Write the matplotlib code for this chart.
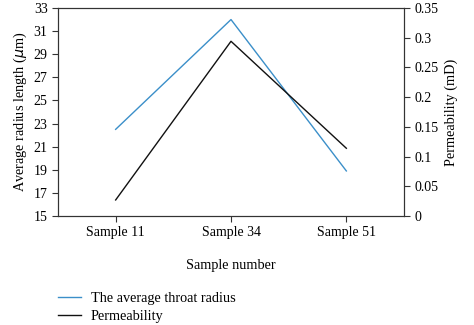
import matplotlib
matplotlib.use("Agg")
import matplotlib.pyplot as plt
from matplotlib.lines import Line2D

plt.rcParams['font.family'] = ['Liberation Serif', 'DejaVu Serif']

samples = ["Sample 11", "Sample 34", "Sample 51"]
radius = [22.5, 32.0, 18.9]
permeability = [0.027, 0.294, 0.114]
left_ticks = [15, 17, 19, 21, 23, 25, 27, 29, 31, 33]
right_ticks = [0, 0.05, 0.1, 0.15, 0.2, 0.25, 0.3, 0.35]
right_labels = ["0", "0.05", "0.1", "0.15", "0.2", "0.25", "0.3", "0.35"]

blue = "#3b8fc9"
black = "#111111"

fig = plt.figure(figsize=(4.74, 3.25), dpi=100)
ax = fig.add_axes([58/474, 1 - 216/325, (404-58)/474, (216-8)/325])
x = list(range(len(samples)))
ax.plot(x, radius, color=blue, lw=1.0)
ax.set_xlim(-0.5, 2.5)
ax.set_ylim(15, 33)
ax.set_yticks(left_ticks)
ax.set_xticks(x)
ax.set_xticklabels(samples)
ax.set_ylabel("Average radius length ($\\mu$m)", fontsize=10.3, labelpad=3)
ax.set_xlabel("Sample number", fontsize=10.3, labelpad=14)
ax.tick_params(labelsize=10, length=4, width=0.8, color="#333333")

ax2 = ax.twinx()
ax2.plot(x, permeability, color=black, lw=1.0)
ax2.set_ylim(0, 0.35)
ax2.set_yticks(right_ticks)
ax2.set_yticklabels(right_labels)
ax2.set_ylabel("Permeability (mD)", fontsize=10.3)
ax2.tick_params(labelsize=10, length=4, width=0.8, color="#333333")

for a in (ax, ax2):
    for s in a.spines.values():
        s.set_linewidth(0.8)
        s.set_color("#333333")

handles = [Line2D([], [], color=blue, lw=1.0), Line2D([], [], color=black, lw=1.0)]
fig.legend(handles, ["The average throat radius", "Permeability"],
           loc="upper left", bbox_to_anchor=(55/474, 1 - 289/325),
           borderaxespad=0, frameon=False, fontsize=10.3, handlelength=1.6,
           handletextpad=0.7, labelspacing=0.35, borderpad=0.2)

fig.savefig("out.png", dpi=100)
